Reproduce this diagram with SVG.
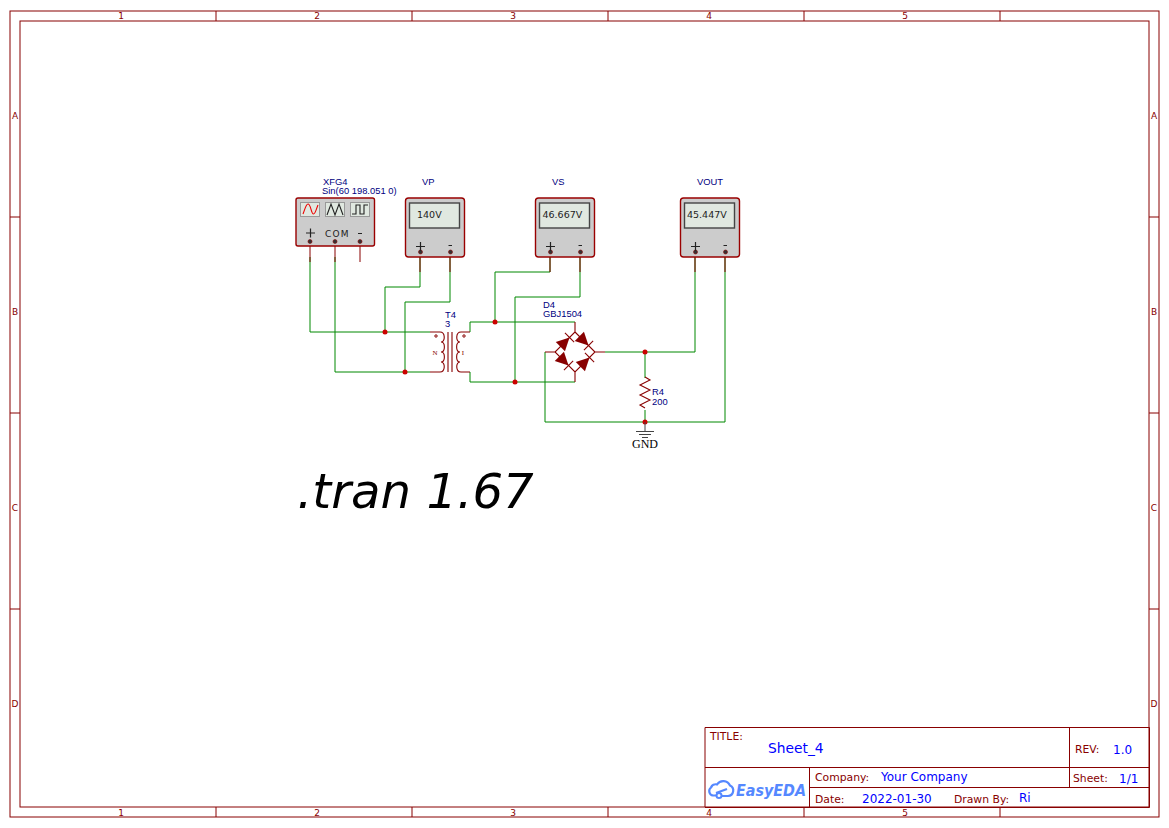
<svg xmlns="http://www.w3.org/2000/svg" width="1169" height="828" viewBox="0 0 1169 828">
<style>
text{font-family:"DejaVu Sans",sans-serif}
.fr{fill:none;stroke:#880000;stroke-width:1}
.ft{font-size:9px;fill:#880000;text-anchor:middle}
.lb{font-size:10.800px;fill:#880000}
.vl{font-size:12px;fill:#0000ff}
.nm{font-family:"Liberation Sans",sans-serif;font-size:9.400px;fill:#000080}
.sf{font-family:"Liberation Serif",serif}
.w{fill:none;stroke:#008800;stroke-width:1}
.pin{fill:none;stroke:#880000;stroke-width:1}
.j{fill:#cc0000}
.box{fill:#cccccc;stroke:#990000;stroke-width:1.400}
.scr{fill:#e0e8e0;stroke:#444;stroke-width:1.400}
.rd{font-size:9.500px;fill:#222}
.term{fill:#333;stroke:#880000;stroke-width:.6}
.s{fill:none;stroke:#880000;stroke-width:1.100}
.d{fill:#880000}
.ic{fill:#e0e8e0;stroke:#999;stroke-width:1}
</style>
<defs>
<g id="meter">
<rect class="box" x="0" y="0" width="59" height="59" rx="3"/>
<rect class="scr" x="4" y="5" width="50" height="25"/>
<circle class="term" cx="15" cy="54" r="2"/>
<circle class="term" cx="45" cy="54" r="2"/>
<path d="M10.500 48.500H19.500M15 44V53M43 47.500H46.500" stroke="#222" stroke-width="1.200" fill="none"/>
</g>
<g id="diode"><path class="d" d="M-8-6.500L5 0L-8 6.500Z"/><path class="s" d="M5-6.500V6.500"/></g>
</defs>
<g id="frame">
<rect class="fr" x="10" y="11" width="1149" height="806"/>
<rect class="fr" x="20" y="21" width="1129" height="786"/>
<path class="fr" d="M216 11V21M412 11V21M608 11V21M804 11V21M1000 11V21M216 807V817M412 807V817M608 807V817M804 807V817M1000 807V817M10 217H20M10 413H20M10 609H20M1149 217H1159M1149 413H1159M1149 609H1159"/>
<text class="ft" x="121" y="19">1</text><text class="ft" x="317" y="19">2</text><text class="ft" x="513" y="19">3</text><text class="ft" x="709" y="19">4</text><text class="ft" x="905" y="19">5</text>
<text class="ft" x="121" y="815.500">1</text><text class="ft" x="317" y="815.500">2</text><text class="ft" x="513" y="815.500">3</text><text class="ft" x="709" y="815.500">4</text><text class="ft" x="905" y="815.500">5</text>
<text class="ft" x="15" y="119">A</text><text class="ft" x="15" y="315">B</text><text class="ft" x="15" y="511">C</text><text class="ft" x="15" y="707">D</text>
<text class="ft" x="1154" y="119">A</text><text class="ft" x="1154" y="315">B</text><text class="ft" x="1154" y="511">C</text><text class="ft" x="1154" y="707">D</text>
</g>
<g id="title-block">
<path d="M705 807V727.500H1149.500V807.500H705" fill="none" stroke="#880000"/>
<path d="M705 767.500H1149M809.500 767V807M809 787.500H1149M1069.500 727V787" fill="none" stroke="#880000"/>
<text class="lb" x="710" y="740">TITLE:</text>
<text x="768" y="753" font-size="13.800" fill="#0000ff">Sheet_4</text>
<text class="lb" x="815" y="781">Company:</text>
<text class="vl" x="881" y="781">Your Company</text>
<text class="lb" x="815" y="803">Date:</text>
<text class="vl" x="862" y="803">2022-01-30</text>
<text class="lb" x="954" y="803">Drawn By:</text>
<text class="vl" x="1019" y="802">Ri</text>
<text class="lb" x="1075" y="753">REV:</text>
<text class="vl" x="1113" y="754">1.0</text>
<text class="lb" x="1073" y="782">Sheet:</text>
<text class="vl" x="1119" y="783">1/1</text>
<g id="logo">
<path d="M716 795.500H713A4.500 4.500 0 0 1 711 787.500A5 5 0 0 1 717 784.500A7.500 7.500 0 0 1 730 785.500A5.500 5.500 0 0 1 728 796H722" fill="none" stroke="#5588ff" stroke-width="2.200"/>
<path d="M716 793L727 789" fill="none" stroke="#5588ff" stroke-width="2.200"/>
<circle cx="719" cy="795.500" r="2.500" fill="none" stroke="#5588ff" stroke-width="2"/>
<text x="736" y="796" font-size="16" font-weight="bold" font-style="italic" fill="#5588ff" textLength="70" lengthAdjust="spacingAndGlyphs">EasyEDA</text>
</g>
</g>
<g id="connectors">
<path class="w" d="M310 257V332H430"/>
<path class="w" d="M335 257V372H430"/>
<path class="w" d="M420 257V287H385V332"/>
<path class="w" d="M450 257V302H405V372"/>
<path class="w" d="M550 257V272H495V322"/>
<path class="w" d="M580 257V297H515V382"/>
<path class="w" d="M470 332V322H575"/>
<path class="w" d="M470 372V382H575"/>
<path class="w" d="M605 352H695V257"/>
<path class="w" d="M725 257V422H545V352"/>
<path class="w" d="M645 352V378M645 410V422"/>
<circle class="j" cx="385" cy="332" r="2.500"/><circle class="j" cx="405" cy="372" r="2.500"/><circle class="j" cx="495" cy="322" r="2.500"/><circle class="j" cx="515" cy="382" r="2.500"/><circle class="j" cx="645" cy="352" r="2.500"/><circle class="j" cx="645" cy="422" r="2.500"/>
</g>
<g id="XFG4">
<path class="pin" d="M310 246V262M335 246V262M360 246V262"/>
<rect class="box" x="296" y="198" width="78.500" height="48" rx="2"/>
<rect class="ic" x="300.500" y="202.500" width="19" height="14"/>
<rect class="ic" x="325.500" y="202.500" width="19" height="14"/>
<rect class="ic" x="350.500" y="202.500" width="19" height="14"/>
<path d="M303 214C305 209 306 204 308 204C311 204 311 214 313.500 214C315.500 214 316.500 208 318 205" fill="none" stroke="#ee0000" stroke-width="1.100"/>
<path d="M327 215L331 204L335 215L339 204L343 215" fill="none" stroke="#222" stroke-width="1.100"/>
<path d="M352 214H356V205H360V214H364V205H368" fill="none" stroke="#222" stroke-width="1.100"/>
<circle class="term" cx="310" cy="241.500" r="2"/><circle class="term" cx="335" cy="241.500" r="2"/><circle class="term" cx="360" cy="241.500" r="2"/>
<path d="M306 233H315M310.500 228.500V237.500M358 233.500H362" stroke="#222" stroke-width="1.200" fill="none"/>
<text x="325" y="237" font-size="9" letter-spacing="1.200" fill="#222">COM</text>
<text class="nm" x="323" y="185">XFG4</text>
<text class="nm" x="322" y="194">Sin(60 198.051 0)</text>
</g>
<g id="VP">
<path class="pin" d="M420 257V272M450 257V272"/>
<use href="#meter" x="405.500" y="198"/>
<text class="rd" x="417" y="218">140V</text>
<text class="nm" x="422" y="185">VP</text>
</g>
<g id="VS">
<path class="pin" d="M550 257V272M580 257V272"/>
<use href="#meter" x="535.500" y="198"/>
<text class="rd" x="542.500" y="218">46.667V</text>
<text class="nm" x="552" y="185">VS</text>
</g>
<g id="VOUT">
<path class="pin" d="M695 257V272M725 257V272"/>
<use href="#meter" x="680.500" y="198"/>
<text class="rd" x="687" y="218">45.447V</text>
<text class="nm" x="697" y="185">VOUT</text>
</g>
<g id="T4">
<text class="nm" x="445" y="318">T4</text>
<text class="nm" x="445" y="327">3</text>
<path class="s" d="M430 332H440C445.500 332 445.500 342 441 342C445.500 342 445.500 352 441 352C445.500 352 445.500 362 441 362C445.500 362 445.500 372 440 372H430"/>
<path class="s" d="M470 332H461C455.500 332 455.500 342 460 342C455.500 342 455.500 352 460 352C455.500 352 455.500 362 460 362C455.500 362 455.500 372 461 372H470"/>
<path d="M448 332V372M452 332V372" stroke="#880000" stroke-width="1.100" fill="none"/>
<circle cx="436" cy="336" r="1.200" fill="none" stroke="#880000"/><circle cx="464" cy="336" r="1.200" fill="none" stroke="#880000"/>
<text class="sf" x="435" y="355" font-size="7" fill="#880000" text-anchor="middle">N</text>
<text class="sf" x="463" y="355" font-size="7" fill="#880000" text-anchor="middle">I</text>
</g>
<g id="D4">
<text class="nm" x="543" y="308">D4</text>
<text class="nm" x="543" y="317">GBJ1504</text>
<path class="s" d="M575 322V332L555 352L575 372L595 352L575 332M545 352H555M595 352H605M575 372V382"/>
<use href="#diode" transform="translate(566 341) rotate(-45)"/>
<use href="#diode" transform="translate(585 342) rotate(45)"/>
<use href="#diode" transform="translate(565 362) rotate(45)"/>
<use href="#diode" transform="translate(586 361) rotate(-45)"/>
</g>
<g id="R4">
<path class="s" d="M645 377L650 380L640 385L650 390L640 395L650 400L640 405L645 408"/>
<text class="nm" x="652" y="395">R4</text>
<text class="nm" x="652" y="405">200</text>
</g>
<g id="GND">
<path d="M645 422V431" stroke="#444" fill="none"/>
<path d="M636 431.500H654M639 434.500H651M642 437.500H648" stroke="#444" fill="none"/>
<text class="sf" x="645" y="448" font-size="12" fill="#000" text-anchor="middle">GND</text>
</g>
<text id="tran" x="297" y="508" font-size="48.200" font-style="italic" fill="#000">.tran 1.67</text>
</svg>
